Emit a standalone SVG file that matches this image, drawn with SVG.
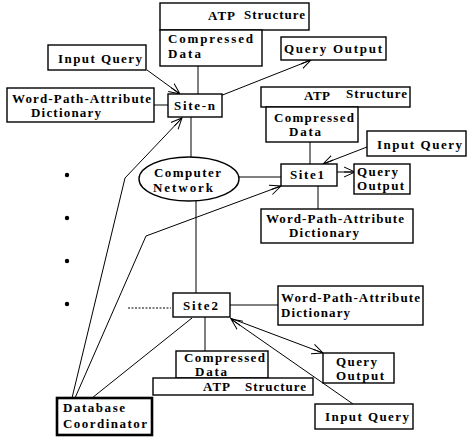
<svg xmlns="http://www.w3.org/2000/svg" width="474" height="445" viewBox="0 0 474 445">
<style>
.b{fill:#fff;stroke:#000;stroke-width:1.4}
.bt{fill:#fff;stroke:#000;stroke-width:2.6}
.l{fill:none;stroke:#000;stroke-width:1}
.a{fill:none;stroke:#000;stroke-width:1;marker-end:url(#arr)}
.t{font-family:"Liberation Serif","Times New Roman",serif;font-weight:bold;font-size:13px;fill:#000}
</style>
<defs>
<marker id="arr" viewBox="0 0 12 12" refX="11" refY="6" markerWidth="12" markerHeight="12" markerUnits="userSpaceOnUse" orient="auto">
<path d="M0,1 L11,6 L0,11 M0,6 L11,6" fill="none" stroke="#000" stroke-width="1"/>
</marker>
</defs>
<rect width="474" height="445" fill="#fff"/>
<g id="connectors">
<line class="l" x1="198" y1="66" x2="198" y2="94"/>
<line class="a" x1="147" y1="70" x2="180" y2="94"/>
<line class="a" x1="220" y1="96" x2="311" y2="60"/>
<line class="l" x1="154" y1="105" x2="168" y2="105"/>
<line class="l" x1="191" y1="117" x2="191" y2="157"/>
<polyline class="a" points="72,398 125,178 182,118"/>
<line class="l" x1="239" y1="177" x2="281" y2="177"/>
<polyline class="a" points="75,398 146,236 281,186"/>
<line class="l" x1="310" y1="142" x2="310" y2="164"/>
<line class="a" x1="367" y1="147" x2="323" y2="164"/>
<line class="a" x1="337" y1="172" x2="355" y2="172"/>
<line class="l" x1="318" y1="186" x2="318" y2="209"/>
<line class="l" x1="196" y1="200" x2="196" y2="293"/>
<line class="l" x1="128" y1="308" x2="171" y2="308" stroke-dasharray="2,1.5" stroke-width="1.5"/>
<line class="l" x1="92" y1="398" x2="192" y2="318"/>
<line class="l" x1="230" y1="305" x2="278" y2="305"/>
<line class="l" x1="205" y1="317" x2="205" y2="351"/>
<line class="a" x1="230" y1="318" x2="323" y2="353"/>
<line class="a" x1="353" y1="404" x2="231" y2="319"/>
</g>
<g id="bullets">
<circle cx="67" cy="175" r="2.2"/>
<circle cx="67" cy="218" r="2.2"/>
<circle cx="67" cy="261" r="2.2"/>
<circle cx="67" cy="304" r="2.2"/>
</g>
<g id="atp-n">
<rect class="b" x="160" y="3" width="149" height="27"/>
<text class="t" x="208" y="20" textLength="27">ATP</text>
<text class="t" x="244" y="19" textLength="61">Structure</text>
</g>
<g id="compressed-n">
<rect class="b" x="160" y="30" width="102" height="36"/>
<text class="t" x="168" y="43" textLength="85">Compressed</text>
<text class="t" x="168" y="58" textLength="33">Data</text>
</g>
<g id="input-n">
<rect class="b" x="48" y="45" width="98" height="25"/>
<text class="t" x="58" y="63" textLength="84">Input Query</text>
</g>
<g id="dict-n">
<rect class="b" x="7" y="88" width="147" height="34"/>
<text class="t" x="12" y="103" textLength="139">Word-Path-Attribute</text>
<text class="t" x="31" y="117" textLength="70">Dictionary</text>
</g>
<g id="site-n">
<rect class="b" x="168" y="94" width="54" height="23"/>
<text class="t" x="174" y="110" textLength="41">Site-n</text>
</g>
<g id="output-n">
<rect class="b" x="281" y="37" width="105" height="23"/>
<text class="t" x="284" y="53" textLength="98">Query Output</text>
</g>
<g id="atp-1">
<rect class="b" x="261" y="87" width="149" height="20"/>
<text class="t" x="304" y="100" textLength="26">ATP</text>
<text class="t" x="346" y="98" textLength="61">Structure</text>
</g>
<g id="compressed-1">
<rect class="b" x="266" y="107" width="92" height="35"/>
<text class="t" x="274" y="122" textLength="80">Compressed</text>
<text class="t" x="289" y="136" textLength="32">Data</text>
</g>
<g id="input-1">
<rect class="b" x="367" y="131" width="99" height="25"/>
<text class="t" x="377" y="149" textLength="85">Input Query</text>
</g>
<g id="site1">
<rect class="b" x="281" y="164" width="56" height="22"/>
<text class="t" x="290" y="179" textLength="34">Site1</text>
</g>
<g id="output-1">
<rect class="b" x="354" y="164" width="56" height="30"/>
<text class="t" x="357" y="176" textLength="41">Query</text>
<text class="t" x="357" y="190" textLength="47">Output</text>
</g>
<g id="dict-1">
<rect class="b" x="261" y="209" width="152" height="34"/>
<text class="t" x="266" y="223" textLength="138">Word-Path-Attribute</text>
<text class="t" x="289" y="237" textLength="70">Dictionary</text>
</g>
<g id="network">
<ellipse class="b" cx="189" cy="179" rx="50" ry="22" stroke-width="1.2"/>
<text class="t" x="154" y="177" textLength="67">Computer</text>
<text class="t" x="153" y="192" textLength="60">Network</text>
</g>
<g id="site2">
<rect class="b" x="173" y="293" width="57" height="24"/>
<text class="t" x="183" y="310" textLength="35">Site2</text>
</g>
<g id="dict-2">
<rect class="b" x="278" y="286" width="145" height="39"/>
<text class="t" x="281" y="302" textLength="139">Word-Path-Attribute</text>
<text class="t" x="281" y="317" textLength="69">Dictionary</text>
</g>
<g id="compressed-2">
<rect class="b" x="176" y="351" width="92" height="27"/>
<text class="t" x="184" y="362" textLength="81">Compressed</text>
<text class="t" x="195" y="376" textLength="32">Data</text>
</g>
<g id="atp-2">
<rect class="b" x="153" y="378" width="160" height="17"/>
<text class="t" x="203" y="391" textLength="27">ATP</text>
<text class="t" x="245" y="391" textLength="61">Structure</text>
</g>
<g id="output-2">
<rect class="b" x="323" y="353" width="71" height="30"/>
<text class="t" x="336" y="366" textLength="41">Query</text>
<text class="t" x="336" y="380" textLength="48">Output</text>
</g>
<g id="input-2">
<rect class="b" x="315" y="404" width="98" height="25"/>
<text class="t" x="325" y="421" textLength="84">Input Query</text>
</g>
<g id="db-coordinator">
<rect class="bt" x="57" y="398" width="95" height="37"/>
<text class="t" x="63" y="412" textLength="62">Database</text>
<text class="t" x="63" y="428" textLength="84">Coordinator</text>
</g>
</svg>
